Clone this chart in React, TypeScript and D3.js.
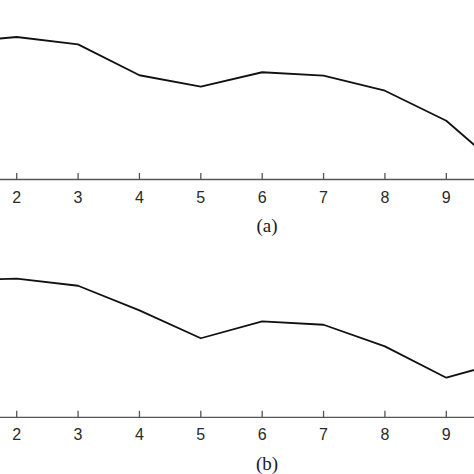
import React from "react";
import * as d3 from "d3";

const xValues = [1, 2, 3, 4, 5, 6, 7, 8, 9, 10];
const seriesA = [0.913, 0.95, 0.901, 0.695, 0.619, 0.715, 0.692, 0.592, 0.392, 0.037];
const seriesB = [0.909, 0.925, 0.877, 0.713, 0.527, 0.64, 0.617, 0.473, 0.264, 0.377];
const xTicks = [2, 3, 4, 5, 6, 7, 8, 9];
const panelLabels = ["(a)", "(b)"];

const W = 474;
const H = 474;

function Panel({ values, axisY, label }: { values: number[]; axisY: number; label: string }) {
  const x = d3.scaleLinear().domain([2, 9]).range([16.7, 446.3]);
  const y = d3.scaleLinear().domain([0, 1]).range([axisY, axisY - 150]);
  const line = d3
    .line<number>()
    .x((_, i) => x(xValues[i]))
    .y((d) => y(d));
  return (
    <g>
      <line x1={0} x2={W} y1={axisY} y2={axisY} stroke="#555" strokeWidth={1.3} />
      {xTicks.map((t) => (
        <g key={t} transform={`translate(${x(t)},${axisY})`}>
          <line y1={0} y2={-6.5} stroke="#555" strokeWidth={1.3} />
          <text
            y={23.2}
            textAnchor="middle"
            fontFamily="Liberation Sans, Arial, sans-serif"
            fontSize={16}
            fill="#2a2a2a"
          >
            {t}
          </text>
        </g>
      ))}
      <path d={line(values) || ""} fill="none" stroke="#111" strokeWidth={1.8} strokeLinejoin="round" />
      <text
        x={267}
        y={axisY + 52.5}
        textAnchor="middle"
        fontFamily="Liberation Serif, Times New Roman, serif"
        fontSize={19}
        fill="#1a1a1a"
      >
        {label}
      </text>
    </g>
  );
}

export default function App() {
  return (
    <svg
      width={W}
      height={H}
      style={{ position: "absolute", left: 0, top: 0, background: "#fff" }}
    >
      <rect width={W} height={H} fill="#fff" />
      <Panel values={seriesA} axisY={179.5} label={panelLabels[0]} />
      <Panel values={seriesB} axisY={417.3} label={panelLabels[1]} />
    </svg>
  );
}
